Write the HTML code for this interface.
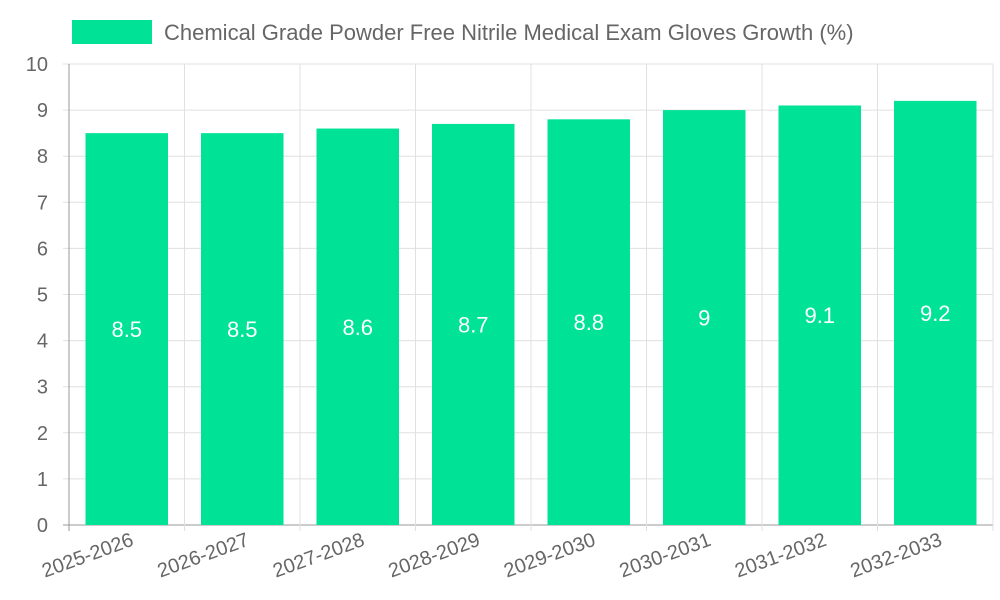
<!DOCTYPE html>
<html><head><meta charset="utf-8"><style>
body{margin:0;background:#fff;}
svg{display:block;font-family:"Liberation Sans",sans-serif;}
</style></head><body>
<svg id="c" width="1000" height="600">
<rect x="72" y="20" width="80" height="24" fill="#00e396"/>
<text x="164" y="40" font-size="22" fill="#666">Chemical Grade Powder Free Nitrile Medical Exam Gloves Growth (%)</text>
<g id="grid"></g><g id="bars"></g>
</svg>
<script>
const categories=["2025-2026","2026-2027","2027-2028","2028-2029","2029-2030","2030-2031","2031-2032","2032-2033"];
const values=[8.5,8.5,8.6,8.7,8.8,9,9.1,9.2];
const yTicks=[0,1,2,3,4,5,6,7,8,9,10];
const L=69,R=993,T=64,B=525,yMax=10;
const bw=(R-L)/categories.length;
const y=v=>B-(B-T)*v/yMax;
const x=i=>L+bw*i;
const ns="http://www.w3.org/2000/svg";
const g=document.getElementById('grid'),bg=document.getElementById('bars');
function mk(tag,at,p){const e=document.createElementNS(ns,tag);for(const k in at)e.setAttribute(k,at[k]);p.appendChild(e);return e;}
yTicks.forEach(t=>{
 const ln=mk('line',{x1:L-6,x2:R,y1:y(t),y2:y(t),stroke:t===0?'#999':'#e0e0e0','stroke-width':1},g);
 
 
 const tx=mk('text',{x:L-21,y:y(t)+7,'text-anchor':'end','font-size':20,fill:'#666'},g);
 tx.textContent=t;
 
 
});
for(let i=0;i<=categories.length;i++){
 const ln=mk('line',{x1:x(i),x2:x(i),y1:T,y2:B+6,stroke:i===0?'#999':'#e0e0e0','stroke-width':1},g);
 
 
}
categories.forEach((c,i)=>{
 const cx=x(i)+bw/2,pad=16.5;
 const r=mk('rect',{x:x(i)+pad,y:y(values[i]),width:bw-2*pad,height:B-y(values[i]),fill:'#00e396'},bg);
 
 
 const v=mk('text',{x:cx,y:(y(values[i])+B)/2+8,'text-anchor':'middle','font-size':22,fill:'#fff'},bg);
 v.textContent=values[i];
 
 
 const t=mk('text',{x:cx+8,y:B+20,'text-anchor':'end','font-size':20,fill:'#666',transform:`rotate(-20 ${cx+8} ${B+20})`},bg);
 t.textContent=c;
 
 
});
</script>
</body></html>
